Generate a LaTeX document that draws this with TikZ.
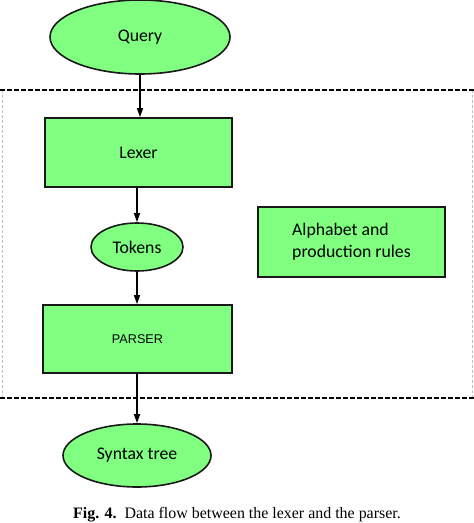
\documentclass[tikz,border=0pt]{standalone}
\usepackage{fontspec}
\setmainfont{Liberation Serif}
\newfontfamily\carl{Carlito}
\newfontfamily\arl{Liberation Sans}
\usetikzlibrary{shapes.geometric,arrows.meta}
\definecolor{fillg}{RGB}{128,255,128}
\definecolor{edge}{RGB}{25,25,25}
\tikzset{
  shp/.style={draw=edge, line width=1.6bp, fill=fillg, inner sep=0pt, font=\carl\fontsize{17.8}{22}\selectfont},
  oval/.style={shp, ellipse},
  boxn/.style={shp, rectangle},
  flow/.style={draw=black, line width=1.4bp, -{Triangle[length=9bp,width=6bp]}},
  bandline/.style={draw=black, line width=1.6bp, dash pattern=on 4.5bp off 2.5bp},
  sideline/.style={draw=black!25, line width=1bp, dash pattern=on 3bp off 2bp}
}
\begin{document}
\begin{tikzpicture}[x=1bp,y=-1bp]
\useasboundingbox (0,0) rectangle (474,523);
% dashed region
\coordinate (tl) at (2,90);
\coordinate (tr) at (472,90);
\coordinate (bl) at (2,398);
\coordinate (br) at (472,398);
\draw[sideline] (tl) -- (bl);
\draw[sideline] (tr) -- (br);
\draw[bandline] (0,90) -- (474,90);
\draw[bandline] (0,398) -- (474,398);
% nodes
\node[oval, minimum width=180bp, minimum height=74bp] (query) at (140,37) {Query};
\node[boxn, minimum width=187bp, minimum height=69bp] (lexer) at (138.5,152.5) {Lexer};
\node[oval, minimum width=92bp, minimum height=48bp] (tokens) at (137,247) {Tokens};
\node[boxn, minimum width=187bp, minimum height=70bp, align=left] (alpha) at (351.5,242) {Alphabet and\\production rules};
\node[boxn, minimum width=189bp, minimum height=68bp, font=\arl\fontsize{12.7}{15}\selectfont] (parser) at (137.5,339) {PARSER};
\node[oval, minimum width=148bp, minimum height=63bp] (syntax) at (137,455.5) {Syntax tree};
% connectors
\draw[flow] (query.south) -- (query.south |- lexer.north);
\draw[flow] (tokens.north |- lexer.south) -- (tokens.north);
\draw[flow] (tokens.south) -- (tokens.south |- parser.north);
\draw[flow] (syntax.north |- parser.south) -- (syntax.north);
% caption
\node[font=\fontsize{16}{19}\selectfont, inner sep=0pt] (cap) at (237,515) {\textbf{Fig. 4.}\ \ Data flow between the lexer and the parser.};
\end{tikzpicture}
\end{document}
